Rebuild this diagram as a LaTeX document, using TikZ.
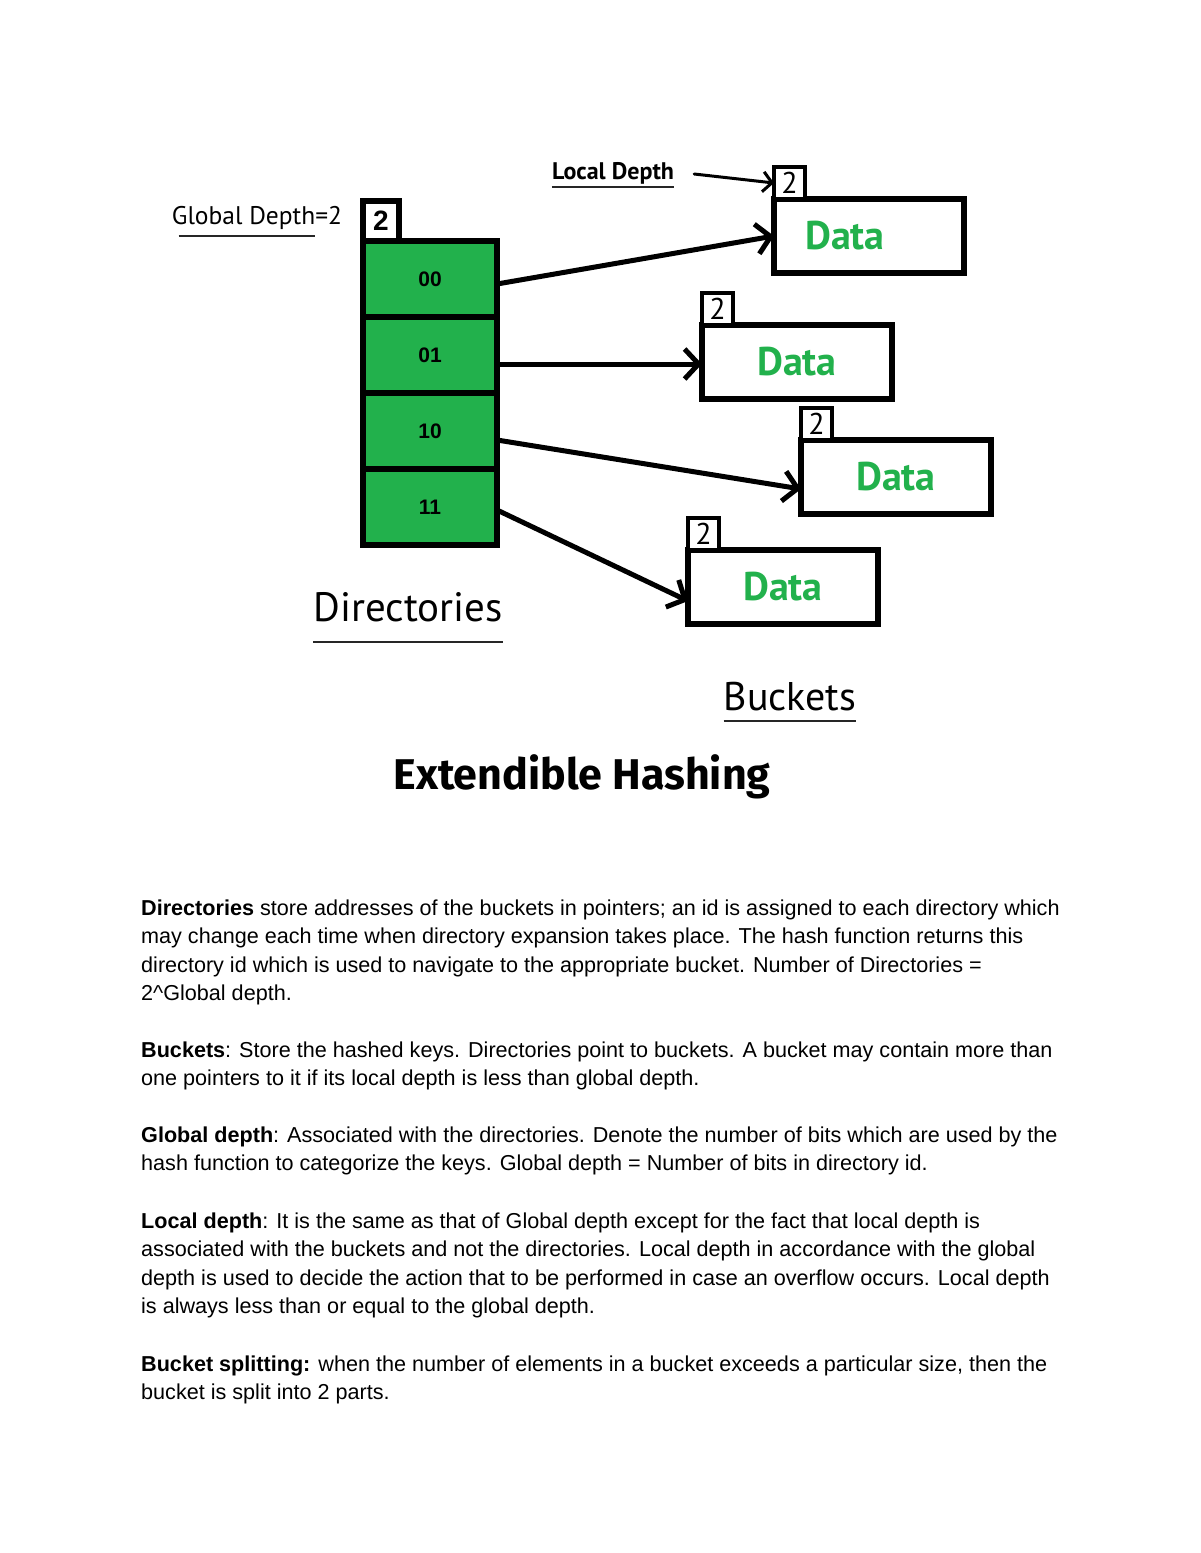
\documentclass[tikz,border=0pt]{standalone}
\usepackage{fontspec}
\setmainfont{Liberation Sans}
\newfontfamily\paintfont{PT Sans}
\newfontfamily\titlefont{Fira Sans}
\usetikzlibrary{positioning,arrows.meta,calc}
\usepackage{xcolor}
\definecolor{paintgreen}{RGB}{34,177,76}

\begin{document}
\begin{tikzpicture}[
    x=1pt, y=-1pt,
    dircell/.style={rectangle, draw=black, fill=paintgreen, line width=6pt,
                    minimum width=134pt, minimum height=76pt,
                    inner sep=0pt, outer sep=0pt,
                    font=\fontsize{21}{21}\selectfont\bfseries},
    bucket/.style={rectangle, draw=black, fill=white, line width=6pt,
                   minimum width=190pt, minimum height=74pt,
                   inner sep=0pt, outer sep=0pt, text=paintgreen,
                   font=\paintfont\bfseries\fontsize{40}{40}\selectfont},
    depthbox/.style={rectangle, draw=black, fill=white, line width=4pt,
                     minimum width=31pt, minimum height=32pt,
                     inner sep=0pt, outer sep=0pt, anchor=south west,
                     font=\paintfont\fontsize{30}{30}\selectfont},
    paintlabel/.style={inner sep=0pt, font=\paintfont\fontsize{#1}{#1}\selectfont},
    pointer/.style={-{Straight Barb[length=14pt,width=30pt]}, line width=5pt,
                    line cap=round, line join=round},
    thinpointer/.style={-{Straight Barb[length=9pt,width=20pt]}, line width=3pt,
                        line cap=round},
    underline/.style={line width=2pt, draw=black!85},
    para/.style={anchor=base west, align=left, inner sep=0pt,
                 font=\fontsize{21.6}{28.5}\selectfont}
]
\fill[white] (0,0) rectangle (1200,1553);
\useasboundingbox (0,0) rectangle (1200,1553);

% directory column
\node[dircell] (c00) at (430,279) {00};
\node[dircell, below=0pt of c00] (c01) {01};
\node[dircell, below=0pt of c01] (c10) {10};
\node[dircell, below=0pt of c10] (c11) {11};
\node[rectangle, draw=black, fill=white, line width=6pt, minimum width=36pt,
      minimum height=40pt, inner sep=0pt, outer sep=0pt, anchor=south west,
      font=\fontsize{28}{28}\selectfont\bfseries] (gd) at (c00.north west) {2};

% buckets
\node[bucket] (b1) at (869,236) {Data\hspace*{48pt}};
\node[bucket] (b2) at (797,362) {Data};
\node[bucket] (b3) at (896,477) {Data};
\node[bucket] (b4) at (783,587) {Data};
\node[depthbox] (d1) at (b1.north west) {2};
\node[depthbox] (d2) at (b2.north west) {2};
\node[depthbox] (d3) at (b3.north west) {2};
\node[depthbox] (d4) at (b4.north west) {2};

% pointers
\draw[pointer] ([yshift=-5pt]c00.east) -- (b1.west);
\draw[pointer] ([yshift=-9pt]c01.east) -- ([yshift=-2pt]b2.west);
\draw[pointer] ([yshift=-9pt]c10.east) -- ([yshift=-12pt]b3.west);
\draw[pointer] ([yshift=-3pt]c11.east) -- ([yshift=-14pt]b4.west);

% labels
\node[paintlabel=25.5] (gdl) at (257,218) {Global Depth=2};
\draw[underline] ([xshift=7pt,yshift=-6pt]gdl.south west) -- ++(136,0);

\node[paintlabel=24, font=\paintfont\bfseries\fontsize{24}{24}\selectfont] (ldl) at (613,173) {Local Depth};
\draw[underline] ([yshift=-3pt]ldl.south west) -- ([yshift=-3pt]ldl.south east);
\draw[thinpointer] ([xshift=20pt,yshift=-1pt]ldl.east) -- (d1.west);

\node[paintlabel=41] (dirl) at (408,607) {Directories};
\draw[underline] ([yshift=-20pt]dirl.south west) -- ([yshift=-20pt]dirl.south east);

\node[paintlabel=40] (bkl) at (790,697) {Buckets};
\draw[underline] ([yshift=-9pt]bkl.south west) -- ([yshift=-9pt]bkl.south east);

\node[inner sep=0pt, font=\titlefont\bfseries\fontsize{43}{43}\selectfont] (title)
    at (582,777) {Extendible Hashing};

% text
\node[para] (p1) at (141,1000.5) {\textbf{Directories} store addresses of the buckets in pointers; an id is assigned to each directory which\\
may change each time when directory expansion takes place. The hash function returns this\\
directory id which is used to navigate to the appropriate bucket. Number of Directories =\\
2\textasciicircum Global depth.};
\node[para] (p2) at (141,1085.5) {\textbf{Buckets}: Store the hashed keys. Directories point to buckets. A bucket may contain more than\\
one pointers to it if its local depth is less than global depth.};
\node[para] (p3) at (141,1170.5) {\textbf{Global depth}: Associated with the directories. Denote the number of bits which are used by the\\
hash function to categorize the keys. Global depth = Number of bits in directory id.};
\node[para] (p4) at (141,1313.5) {\textbf{Local depth}: It is the same as that of Global depth except for the fact that local depth is\\
associated with the buckets and not the directories. Local depth in accordance with the global\\
depth is used to decide the action that to be performed in case an overflow occurs. Local depth\\
is always less than or equal to the global depth.};
\node[para] (p5) at (141,1399.5) {\textbf{Bucket splitting:} when the number of elements in a bucket exceeds a particular size, then the\\
bucket is split into 2 parts.};

\end{tikzpicture}
\end{document}
